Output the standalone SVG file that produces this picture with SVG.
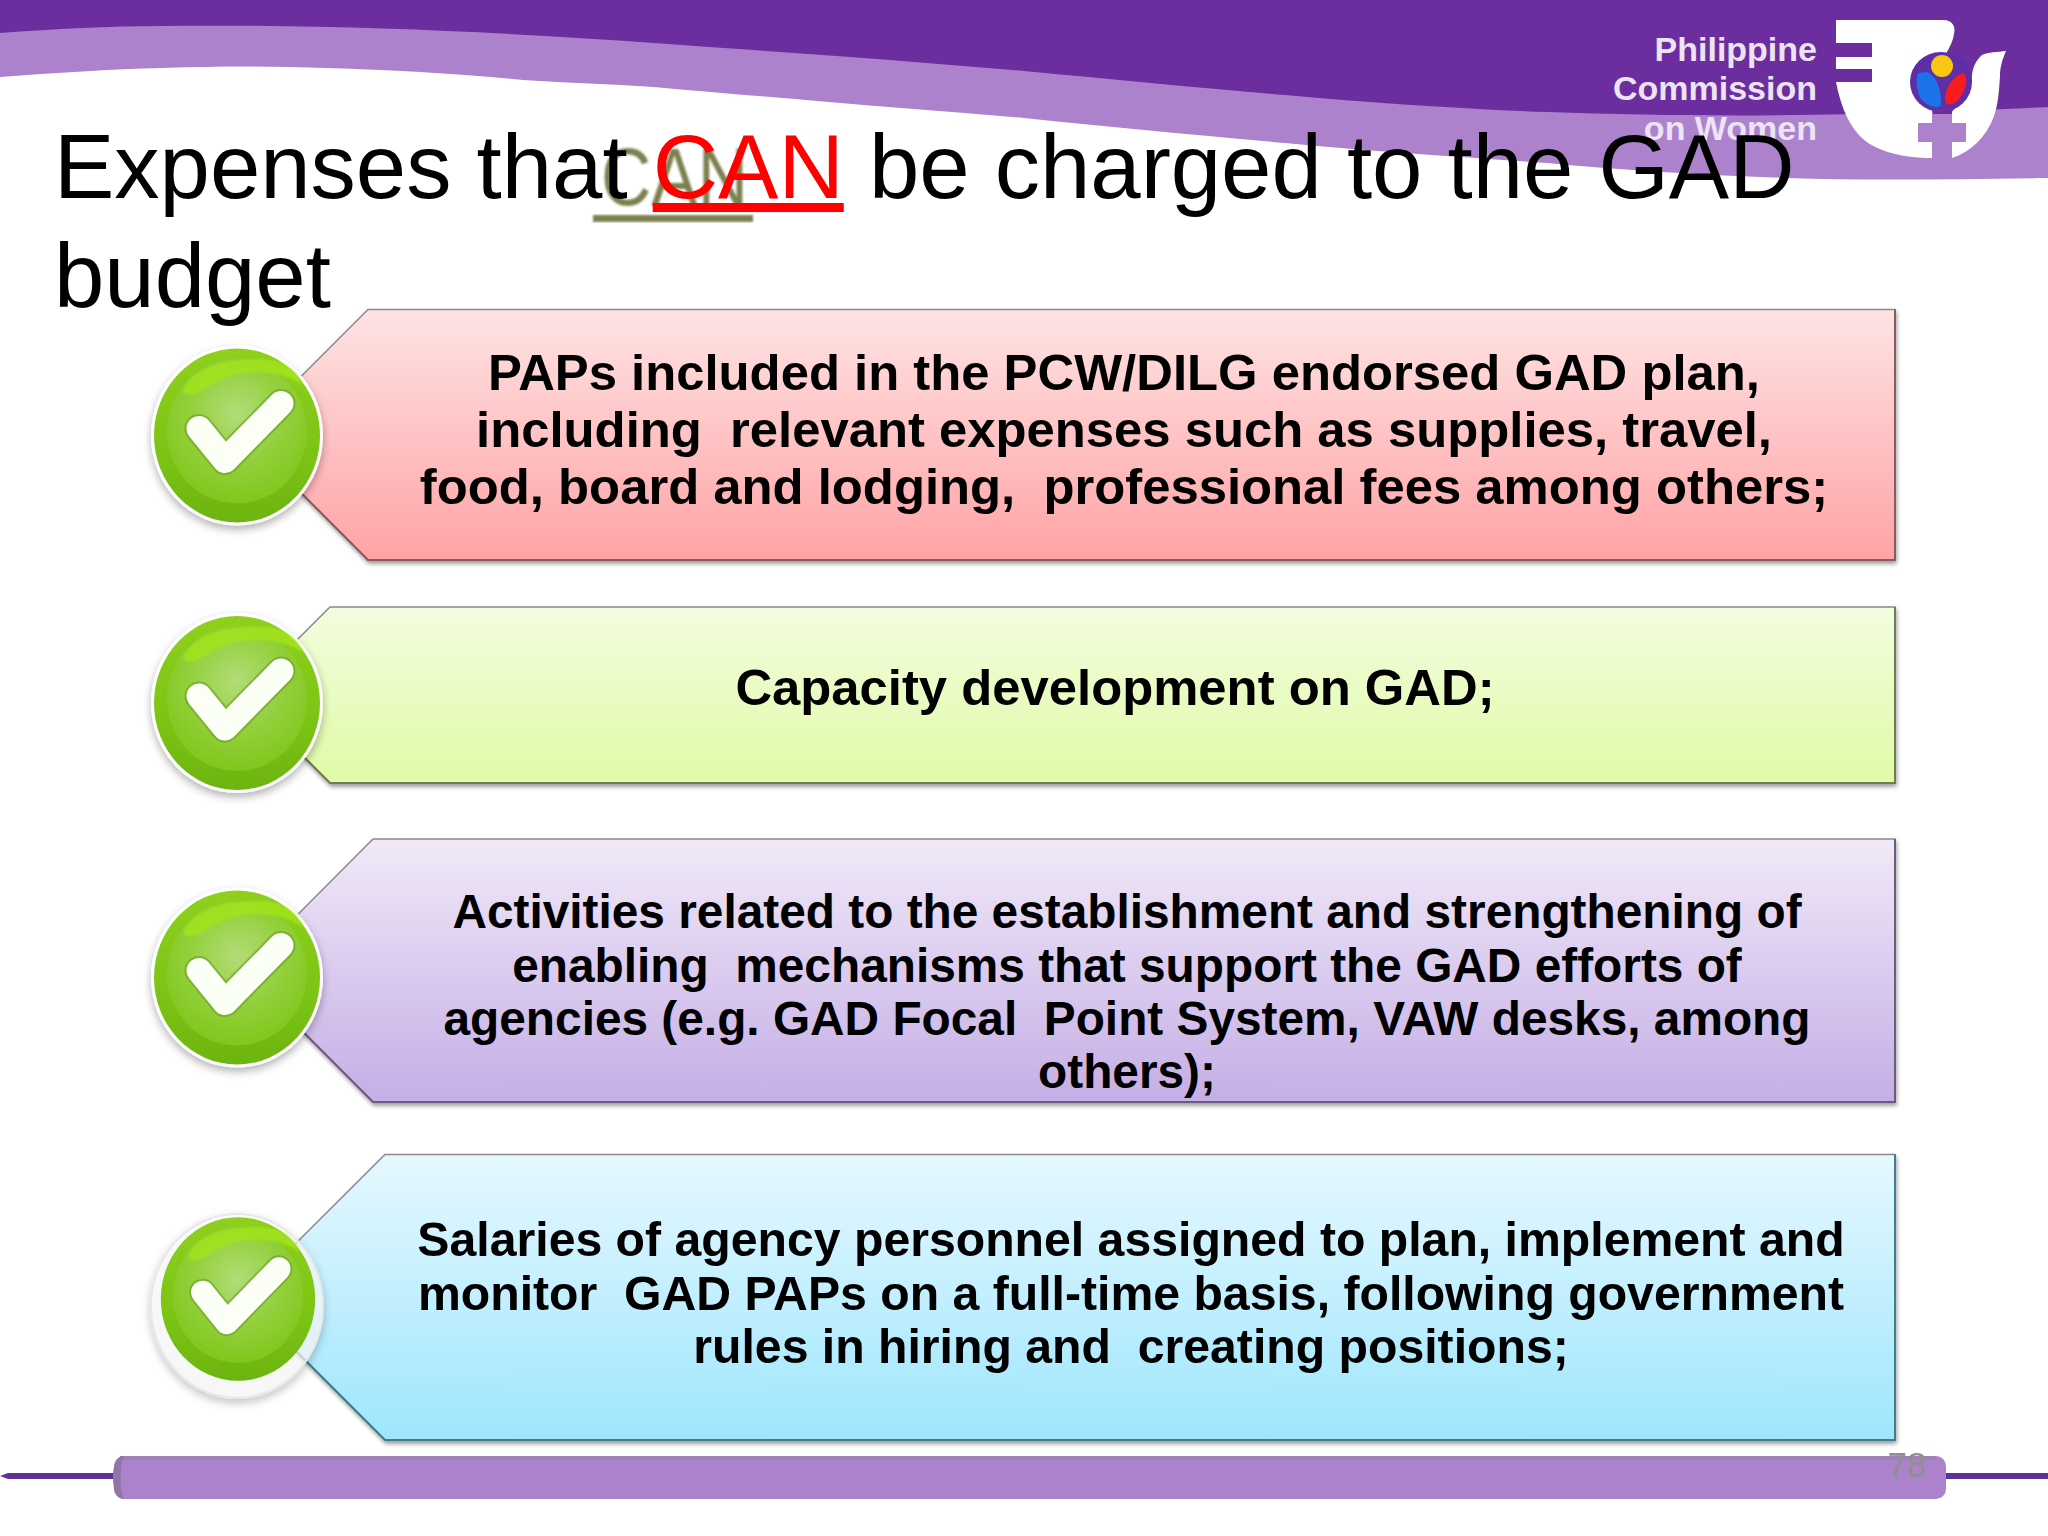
<svg xmlns="http://www.w3.org/2000/svg" width="2048" height="1536" viewBox="0 0 2048 1536">
<style>
text{font-family:"Liberation Sans",Arial,sans-serif}
.t{font-size:90.500px;fill:#000}
.b{font-weight:bold;fill:#000;text-anchor:middle;white-space:pre}
.l{font-weight:bold;font-size:34px;fill:#ece3f3;text-anchor:end}
.box{stroke:#8a8a8a;stroke-width:1.5}
.edge{fill:none;stroke-width:2}
</style>
<defs>
<linearGradient id="g1" x1="0" y1="0" x2="0" y2="1"><stop offset="0" stop-color="#ffe3e3"/><stop offset="1" stop-color="#ffa3a6"/></linearGradient>
<linearGradient id="g2" x1="0" y1="0" x2="0" y2="1"><stop offset="0" stop-color="#f3fde0"/><stop offset="1" stop-color="#dffba6"/></linearGradient>
<linearGradient id="g3" x1="0" y1="0" x2="0" y2="1"><stop offset="0" stop-color="#f1e9f8"/><stop offset="1" stop-color="#c5aee6"/></linearGradient>
<linearGradient id="g4" x1="0" y1="0" x2="0" y2="1"><stop offset="0" stop-color="#e6f8ff"/><stop offset="1" stop-color="#9ee6fd"/></linearGradient>
<linearGradient id="rim" x1="0" y1="0" x2="0" y2="1"><stop offset="0" stop-color="#8fd01e"/><stop offset="0.6" stop-color="#7cc414"/><stop offset="1" stop-color="#6cb410"/></linearGradient>
<radialGradient id="ball" cx="0.5" cy="0.38" r="0.62"><stop offset="0" stop-color="#b2dc78"/><stop offset="0.55" stop-color="#93d03c"/><stop offset="1" stop-color="#80c71c"/></radialGradient>
<filter id="sh" x="-5%" y="-10%" width="110%" height="120%"><feDropShadow dx="1" dy="3" stdDeviation="2" flood-color="#000" flood-opacity="0.4"/></filter>
<filter id="sb" x="-20%" y="-20%" width="140%" height="140%"><feDropShadow dx="0" dy="4" stdDeviation="4" flood-color="#000" flood-opacity="0.3"/></filter>
<filter id="bl" x="-10%" y="-10%" width="120%" height="120%"><feGaussianBlur stdDeviation="1.2"/></filter>
<filter id="sft" x="-15%" y="-15%" width="130%" height="130%"><feGaussianBlur stdDeviation="1.3"/></filter>
<g id="ballface">
<ellipse cx="0" cy="0" rx="83" ry="87" fill="url(#rim)"/>
<ellipse cx="0" cy="-4" rx="70" ry="72" fill="url(#ball)"/>
<path d="M-53 -48C-40 -70 -10 -78 30 -76C50 -74 62 -62 66 -50C45 -66 0 -70 -30 -48C-42 -40 -56 -38 -53 -48Z" fill="#a2e41c" opacity="0.85" filter="url(#sft)"/>
<path d="M-38 -7L-12 25L44 -32" fill="none" stroke="#6b9c2c" stroke-width="29" stroke-linejoin="round" stroke-linecap="round" opacity="0.6"/>
<path d="M-38 -7L-12 25L44 -32" fill="none" stroke="#fcfff5" stroke-width="25" stroke-linejoin="round" stroke-linecap="round"/>
</g>
</defs>

<g id="header">
<rect width="2048" height="190" fill="#fff"/>
<path d="M0 0H2048V178C1960 179 1870 181 1787 178C1700 175 1620 170 1547 163C1460 157 1370 151 1285 143C1195 135 1110 127 1024 118C955 112 885 107 817 101C760 96 705 92 654 87C610 84 570 83 523 80C460 74 395 70 327 68C270 66 220 66 163 68C110 69 55 73 0 77Z" fill="#ad82cd"/>
<path d="M0 0H2048V107C1970 111 1890 114 1800 115C1720 116 1630 115 1547 112C1460 109 1375 103 1285 95C1200 88 1110 79 1024 71C900 60 780 52 654 43C500 32 330 24 163 26C110 26 55 29 0 33Z" fill="#6c2e9f"/>
</g>
<g id="logo">
<text class="l" x="1817" y="61">Philippine</text>
<text class="l" x="1817" y="100">Commission</text>
<text class="l" x="1817" y="140">on Women</text>
<path d="M1836 20H1943C1952 20 1956 26 1954 34C1953 41 1950 46 1947 52L1942 82L1932 112V158C1895 158 1870 148 1858 134C1846 120 1840 102 1836 82H1872V69H1836V57H1872V43H1836Z" fill="#fff"/>
<path d="M1952 158V112L1972 82C1971 72 1974 62 1982 55C1988 52 1998 52 2006 51C2003 58 2000 66 2000 76C1999 92 1998 105 1994 116C1986 138 1970 152 1952 158Z" fill="#fff"/>
<ellipse cx="1941" cy="82" rx="31" ry="30" fill="#5d2ea6"/>
<path d="M1933 110H1952V158H1933Z" fill="#ad82cd"/>
<rect x="1918" y="123" width="48" height="19" fill="#ad82cd"/>
<rect x="1933" y="108" width="19" height="6" fill="#6c2e9f"/>
<circle cx="1942" cy="66" r="11" fill="#f9c712"/>
<path d="M1919 73C1915 74 1916 92 1922 100C1928 107 1941 110 1941 104C1942 90 1936 74 1926 72Z" fill="#1c72e8"/>
<path d="M1964 73C1969 80 1965 92 1958 100C1954 104 1946 108 1945 100C1945 88 1952 76 1964 73Z" fill="#f81c20"/>
</g>

<g id="title">
<text x="601" y="205" font-size="82" fill="#7c8050" filter="url(#bl)" textLength="147" lengthAdjust="spacingAndGlyphs">CAN</text>
<rect x="593" y="215" width="160" height="7" fill="#7c8050" filter="url(#bl)"/>
<text class="t" x="54" y="198">Expenses that <tspan fill="#f00" text-decoration="underline">CAN</tspan> be charged to the GAD</text>
<text class="t" x="54" y="307">budget</text>
</g>

<g id="node-1">
<path class="box" filter="url(#sh)" d="M368 309.500H1895V560H368L243 434.500Z" fill="url(#g1)"/>
<path class="edge" stroke="#8a5a5e" d="M243 434.500L368 560H1895V309.500"/>
<ellipse cx="237" cy="435.500" rx="86" ry="90" fill="#fff" filter="url(#sb)"/><use href="#ballface" x="237" y="435.500"/>
<text class="b" font-size="50.800" x="1124" y="390">PAPs included in the PCW/DILG endorsed GAD plan,</text>
<text class="b" font-size="50.800" x="1124" y="447">including  relevant expenses such as supplies, travel,</text>
<text class="b" font-size="50.800" x="1124" y="504">food, board and lodging,  professional fees among others;</text>
</g>
<g id="node-2">
<path class="box" filter="url(#sh)" d="M330 607H1895V783H330L242 695Z" fill="url(#g2)"/>
<path class="edge" stroke="#6d7d50" d="M242 695L330 783H1895V607"/>
<ellipse cx="237" cy="703" rx="86" ry="90" fill="#fff" filter="url(#sb)"/><use href="#ballface" x="237" y="703"/>
<text class="b" font-size="50.800" x="1115" y="705">Capacity development on GAD;</text>
</g>
<g id="node-3">
<path class="box" filter="url(#sh)" d="M373 839H1895V1102H373L242 970.500Z" fill="url(#g3)"/>
<path class="edge" stroke="#6c5c80" d="M242 970.500L373 1102H1895V839"/>
<ellipse cx="237" cy="977.500" rx="86" ry="90" fill="#fff" filter="url(#sb)"/><use href="#ballface" x="237" y="977.500"/>
<text class="b" font-size="47.800" x="1127" y="928">Activities related to the establishment and strengthening of</text>
<text class="b" font-size="47.800" x="1127" y="982">enabling  mechanisms that support the GAD efforts of</text>
<text class="b" font-size="47.800" x="1127" y="1035">agencies (e.g. GAD Focal  Point System, VAW desks, among</text>
<text class="b" font-size="47.800" x="1127" y="1088">others);</text>
</g>
<g id="node-4">
<path class="box" filter="url(#sh)" d="M385 1154.500H1895V1440H385L242 1297Z" fill="url(#g4)"/>
<path class="edge" stroke="#3d7f8c" d="M242 1297L385 1440H1895V1154.500"/>
<ellipse cx="237" cy="1306" rx="86" ry="92" fill="#fff" fill-opacity="0.65" stroke="#e8e8e8" stroke-width="2" filter="url(#sb)"/>
<use href="#ballface" transform="translate(238 1299) scale(.93 .94)"/>
<text class="b" font-size="48.200" x="1131" y="1256">Salaries of agency personnel assigned to plan, implement and</text>
<text class="b" font-size="48.200" x="1131" y="1310">monitor  GAD PAPs on a full-time basis, following government</text>
<text class="b" font-size="48.200" x="1131" y="1363">rules in hiring and  creating positions;</text>
</g>

<g id="footer">
<path d="M0 1476L8 1473H2048V1479H8Z" fill="#5f3299"/>
<rect x="114" y="1456" width="1832" height="43" rx="10" fill="#ad82cd"/>
<rect x="120" y="1456" width="1816" height="4" fill="#9f83b4"/>
<path d="M124 1456C116 1456 113 1466 113 1477C113 1490 116 1499 124 1499C120 1490 119 1466 124 1456Z" fill="#8f75a8"/>
<text x="1907" y="1477" font-size="35" fill="#8f8f8f" text-anchor="middle">78</text>
</g>
</svg>
